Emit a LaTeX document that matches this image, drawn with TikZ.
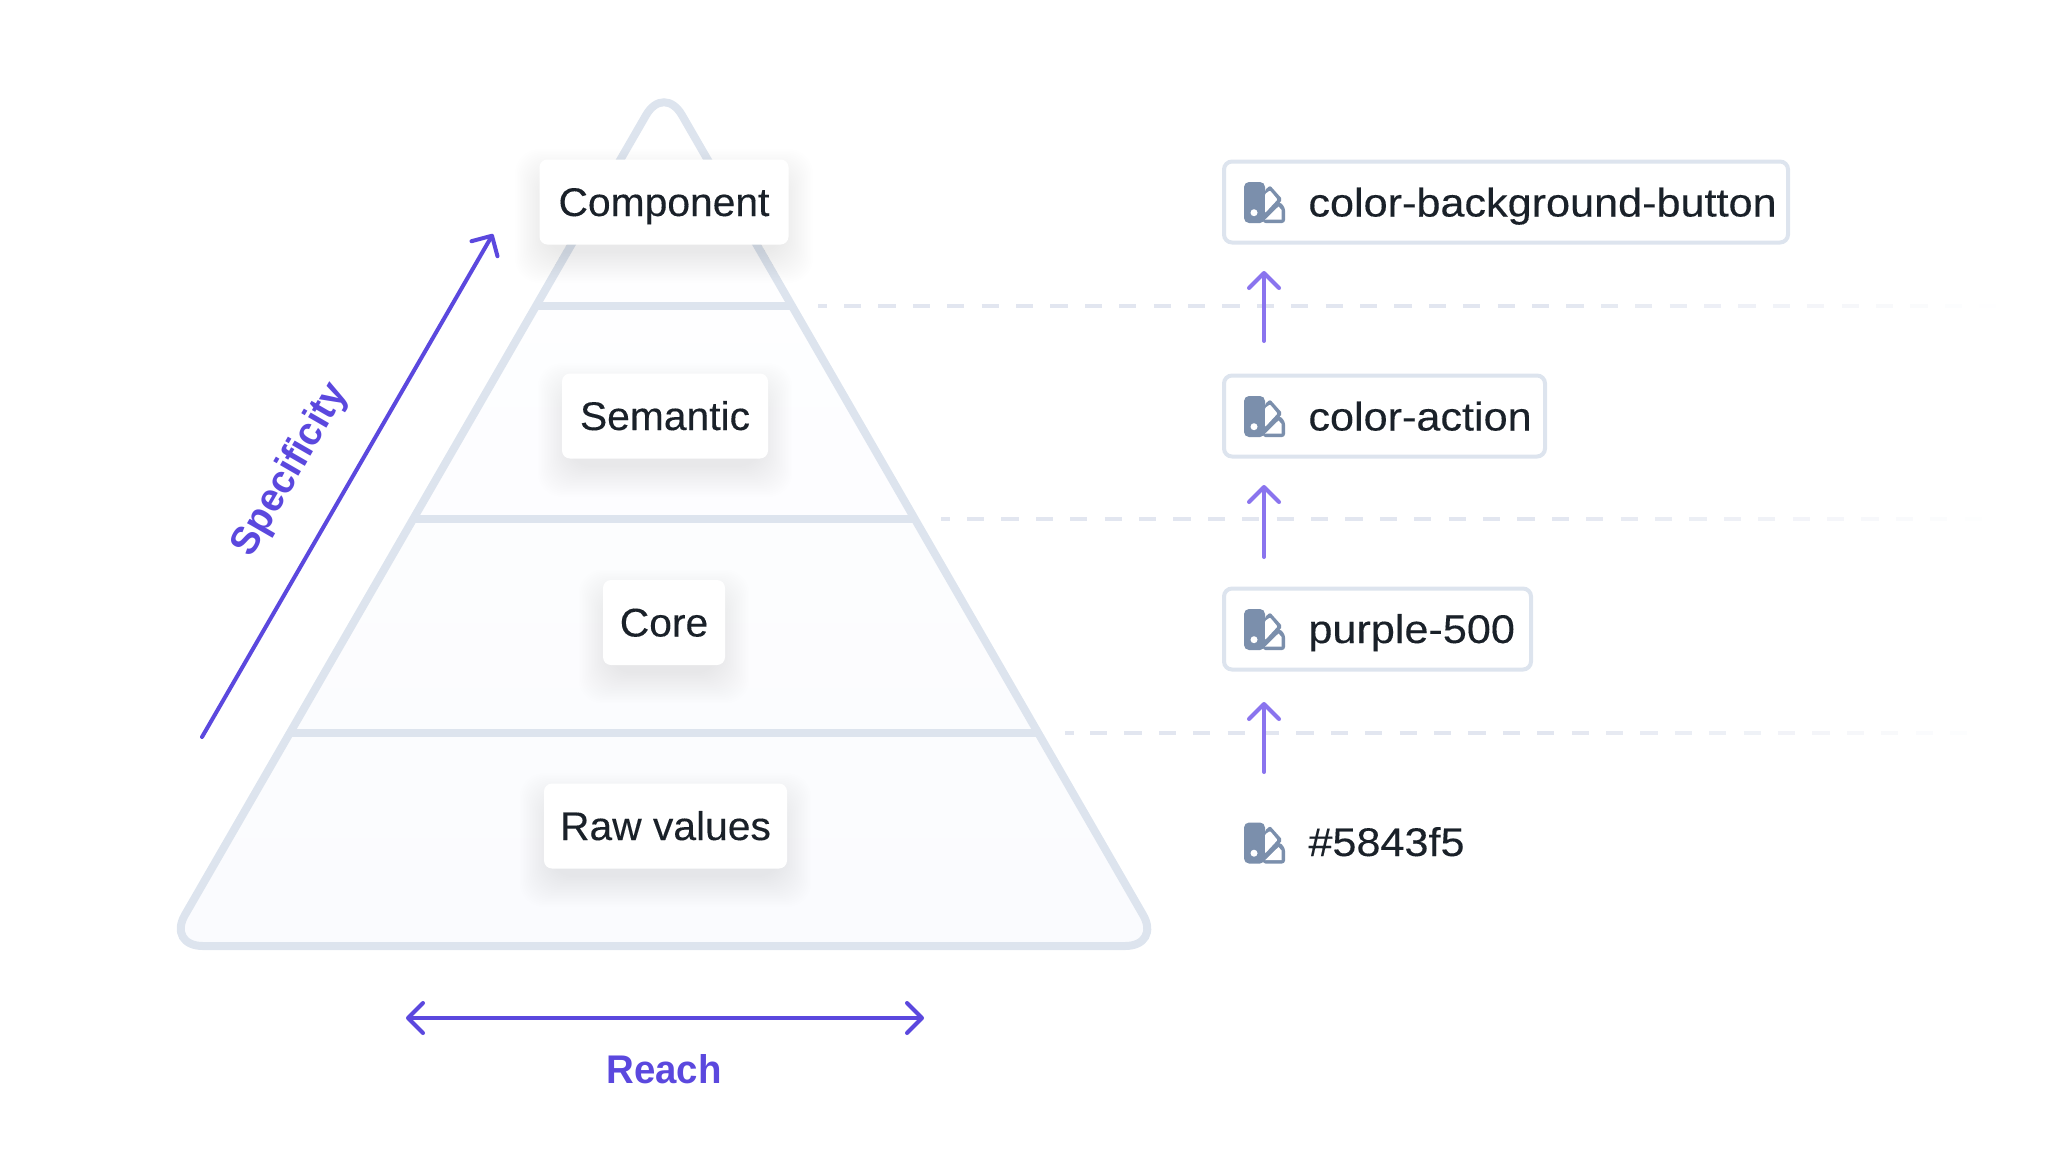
\documentclass[tikz,border=0pt]{standalone}
\usepackage{xcolor}
\usepackage{fontspec}
\setmainfont{Liberation Sans}[FakeStretch=1.02,FakeBold=0.2]
\newfontfamily\tokenfont{Liberation Sans}[FakeStretch=1.08,FakeBold=0.2]
\newfontfamily\axisfont{Liberation Sans}[FakeStretch=0.96]
\usetikzlibrary{calc,arrows.meta}

\definecolor{rim}{HTML}{DDE4EE}
\definecolor{dashgray}{HTML}{E2E6F0}
\definecolor{inkdark}{HTML}{1A2129}
\definecolor{axispurple}{HTML}{5B48DE}
\definecolor{steppurple}{HTML}{8A74EE}
\definecolor{swatchblue}{HTML}{7B8FAC}
\definecolor{bandfill}{HTML}{FAFBFE}

\pgfdeclarelayer{pyr}
\pgfdeclarelayer{shad}
\pgfsetlayers{pyr,shad,main}

\tikzset{
    >={Straight Barb[round,length=7.5pt,width=15pt]},
    card/.style={fill=white,text=inkdark,rounded corners=4pt,inner sep=0pt,
        minimum height=42.5pt,text height=14pt,text depth=0pt,font=\fontsize{20}{24}\selectfont},
    tokenbox/.style={draw=rim,line width=2pt,fill=white,rounded corners=4pt,inner sep=0pt,outer sep=0pt,
        minimum height=40.5pt,anchor=west},
    tokentext/.style={text=inkdark,inner sep=0pt,anchor=west,text height=14pt,text depth=0pt,
        font=\tokenfont\fontsize{20}{24}\selectfont},
    axislabel/.style={text=axispurple,inner sep=0pt,font=\axisfont\bfseries\fontsize{20}{24}\selectfont},
    axisline/.style={axispurple,line width=2pt,line cap=round},
    stepline/.style={->,steppurple,line width=2pt,line cap=round},
    swatch/.pic={
        \fill[swatchblue,rounded corners=2.5pt] (-20.5,-20.5) rectangle (0.5,20.5);
        \fill[swatchblue,rounded corners=1.5pt] (-2,20.5) -- (20.5,20.5) -- (20.5,5) -- (15,-1) -- (0,10) -- cycle;
        \fill[white] (0.5,17.2) -- (17,17.2) -- (17,7.5) -- (14,4) -- cycle;
        \fill[swatchblue,rounded corners=1pt] (0,-12) -- (5.5,-17) -- (18,-3) -- (0,16.5) -- cycle;
        \fill[white,rounded corners=0.5pt] (0.5,-8.5) -- (5.5,-12) -- (13,-3) -- (0.5,10.5) -- cycle;
        \fill[white] (-10.5,10.2) circle (1.75pt);
    }
}

\newcommand{\dashrow}[2]{%
    \foreach \k in {0,...,33} {
        \pgfmathsetmacro{\xa}{#2+34.4*\k}
        \pgfmathsetmacro{\fade}{max(0,min(1,(1990-\xa)/460))}
        \draw[dashgray,line width=2pt,opacity=\fade] (\xa,#1) -- ++(17.2,0);
    }
}

\begin{document}
\begin{tikzpicture}[x=0.5pt,y=-0.5pt]
    \useasboundingbox (0,0) rectangle (2048,1152);

    \begin{pgfonlayer}{pyr}
    \coordinate (apex) at (664,84);
    \coordinate (baseL) at (167,946);
    \coordinate (baseR) at (1161,946);
    \path[rounded corners=18pt,top color=white,bottom color=bandfill] (apex) -- (baseR) -- (baseL) -- cycle;
    \draw[rim,line width=4pt,rounded corners=18pt] (apex) -- (baseR) -- (baseL) -- cycle;
    \draw[rim,line width=4pt] (536,306) -- (792,306);
    \draw[rim,line width=4pt] (412.5,519) -- (915.5,519);
    \draw[rim,line width=4pt] (289,733) -- (1039,733);

    \draw[dashgray,line width=2pt] (818,306) -- (827,306);
    \dashrow{306}{844}
    \draw[dashgray,line width=2pt] (941,519) -- (950,519);
    \dashrow{519}{967}
    \draw[dashgray,line width=2pt] (1065,733) -- (1074,733);
    \dashrow{733}{1090}
    \end{pgfonlayer}

    \node[card,minimum width=124.5pt] (component) at (664,202) {Component};
    \node[card,minimum width=103pt] (semantic) at (665,416) {Semantic};
    \node[card,minimum width=61pt] (core) at (664,622.5) {Core};
    \node[card,minimum width=121.5pt] (rawvalues) at (665.5,826) {Raw values};

    \begin{pgfonlayer}{shad}
    \foreach \c in {component,semantic,core,rawvalues} {
        \foreach \d in {-6,-4.5,...,24} {
            \fill[black,opacity=0.0045,rounded corners=12pt]
                ($(\c.south west)+(-\d,14+\d)$) rectangle ($(\c.north east)+(\d,14-\d)$);
        }
    }
    \end{pgfonlayer}

    \node[tokenbox,minimum width=282pt] (tokbutton) at (1224,202) {};
    \node[tokenbox,minimum width=160.5pt] (tokaction) at (1224,416) {};
    \node[tokenbox,minimum width=153.5pt] (tokpurple) at (1224,629) {};

    \pic at (1264.5,202.5) {swatch};
    \pic at (1264.5,416.5) {swatch};
    \pic at (1264.5,629.5) {swatch};
    \pic at (1264.5,843) {swatch};

    \node[tokentext] (namebutton) at (1308,202.5) {color-background-button};
    \node[tokentext] (nameaction) at (1308,416.5) {color-action};
    \node[tokentext] (namepurple) at (1308,629) {purple-500};
    \node[tokentext] (namehex) at (1308,842) {\#5843f5};

    % arrows between the token rows
    \coordinate (upA) at (1264,341);
    \coordinate (upAtip) at (1264,271);
    \coordinate (upB) at (1264,557);
    \coordinate (upBtip) at (1264,485);
    \coordinate (upC) at (1264,772);
    \coordinate (upCtip) at (1264,702);
    \draw[stepline] (upA) -- (upAtip);
    \draw[stepline] (upB) -- (upBtip);
    \draw[stepline] (upC) -- (upCtip);

    % specificity and reach
    \coordinate (specfoot) at (202,737);
    \coordinate (spectip) at (493,234);
    \draw[axisline,->] (specfoot) -- (spectip);
    \node[axislabel,rotate=60] (specificity) at (291,470) {Specificity};

    \coordinate (reachL) at (406,1018);
    \coordinate (reachR) at (924,1018);
    \draw[axisline,<->] (reachL) -- (reachR);
    \node[axislabel,text height=14pt,text depth=0pt] (reach) at (664,1069) {Reach};
\end{tikzpicture}
\end{document}
